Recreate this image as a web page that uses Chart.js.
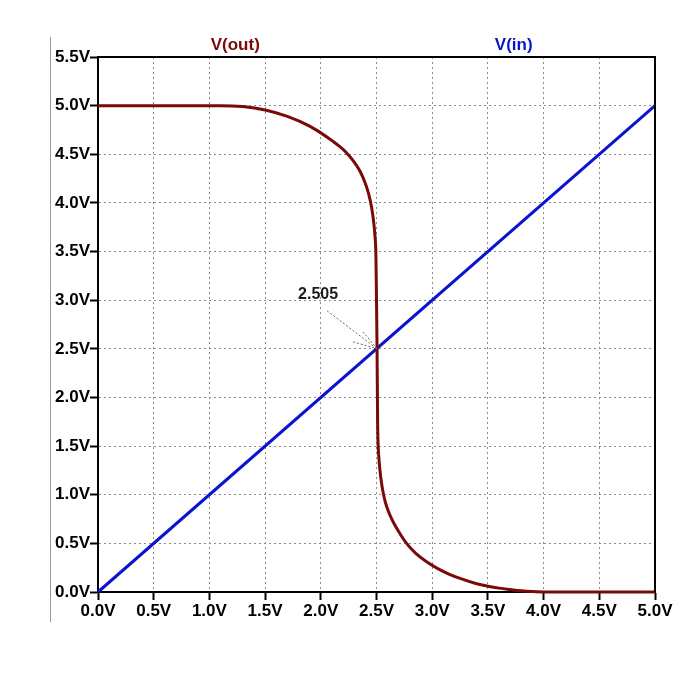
<!DOCTYPE html>
<html>
<head>
<meta charset="utf-8">
<script src="https://cdn.jsdelivr.net/npm/chart.js@4.4.1/dist/chart.umd.min.js"></script>
<style>
  html, body { margin: 0; padding: 0; background: #fff; }
  #wrap { width: 700px; height: 676px; }
</style>
</head>
<body>
<div id="wrap"><canvas id="sweep" width="700" height="676"></canvas></div>
<script>
// Input sweep (V) and traces
const vinX = [0, 5];
const vinY = [0, 5];

const voutX = [0, 1.1, 1.3, 1.5, 1.7, 1.9, 2.0, 2.1, 2.2, 2.25, 2.3, 2.35, 2.4, 2.43, 2.455, 2.475,
  2.487, 2.495, 2.5, 2.505, 2.51, 2.515, 2.52, 2.53, 2.545, 2.56, 2.58, 2.61, 2.65, 2.7,
  2.77, 2.85, 2.95, 3.05, 3.15, 3.25, 3.4, 3.5, 3.6, 3.7, 3.8, 3.9, 4.0, 5.0];
const voutY = [5.0, 5.0, 4.99, 4.955, 4.89, 4.79, 4.72, 4.64, 4.55, 4.49, 4.42, 4.33, 4.2, 4.09, 3.96, 3.8,
  3.65, 3.45, 3.0, 2.5, 1.75, 1.5, 1.4, 1.26, 1.12, 1.02, 0.92, 0.82, 0.72, 0.62,
  0.5, 0.4, 0.31, 0.24, 0.185, 0.14, 0.085, 0.06, 0.04, 0.025, 0.012, 0.004, 0.0, 0.0];

const traceNames = ['V(out)', 'V(in)'];
const traceColors = ['#7a0a0a', '#0a14cc'];

// cursor readout where the two traces cross
const crossing = [2.505, 2.5];

const xTicks = [0, 0.5, 1, 1.5, 2, 2.5, 3, 3.5, 4, 4.5, 5];
const yTicks = [0, 0.5, 1, 1.5, 2, 2.5, 3, 3.5, 4, 4.5, 5, 5.5];

const labelFont = { family: '"Liberation Sans", Arial, sans-serif', size: 17, weight: 'bold' };

function toPoints(xs, ys) {
  return xs.map((x, i) => ({ x: x, y: ys[i] }));
}

function fmtVolt(v) {
  return Number(v).toFixed(1) + 'V';
}

// Box frame, trace names and the cursor annotation
const decorations = {
  id: 'decorations',
  afterDraw(chart) {
    const ctx = chart.ctx;
    const area = chart.chartArea;
    const xs = chart.scales.x;
    const ys = chart.scales.y;

    ctx.save();

    // thin gray edge on the far left
    ctx.strokeStyle = '#9a9a9a';
    ctx.lineWidth = 1;
    ctx.beginPath();
    ctx.moveTo(50.5, 37);
    ctx.lineTo(50.5, 622);
    ctx.stroke();

    // top and right edge of the plot box
    ctx.strokeStyle = '#000';
    ctx.lineWidth = 2;
    ctx.beginPath();
    ctx.moveTo(area.left, area.top);
    ctx.lineTo(area.right, area.top);
    ctx.lineTo(area.right, area.bottom);
    ctx.stroke();

    // trace names above the plot
    ctx.font = 'bold 17px "Liberation Sans", Arial, sans-serif';
    ctx.textAlign = 'center';
    ctx.textBaseline = 'middle';
    const namePos = [0.25, 0.75];
    traceNames.forEach((name, i) => {
      ctx.fillStyle = traceColors[i];
      const cx = area.left + (area.right - area.left) * namePos[i] - 2;
      ctx.fillText(name, cx, area.top - 12);
    });

    // annotation at the crossing point
    const tx = xs.getPixelForValue(crossing[0]);
    const ty = ys.getPixelForValue(crossing[1]);
    ctx.strokeStyle = '#666';
    ctx.lineWidth = 1;
    ctx.setLineDash([2, 2]);
    ctx.beginPath();
    ctx.moveTo(tx - 50, ty - 38);
    ctx.lineTo(tx, ty);
    ctx.moveTo(tx - 14, ty - 17);
    ctx.lineTo(tx, ty);
    ctx.moveTo(tx - 24, ty - 7);
    ctx.lineTo(tx, ty);
    ctx.stroke();
    ctx.setLineDash([]);

    ctx.fillStyle = '#1a1a1a';
    ctx.font = 'bold 16px "Liberation Sans", Arial, sans-serif';
    ctx.fillText(crossing[0].toFixed(3), tx - 59, ty - 54);

    ctx.restore();
  }
};

const gridStyle = {
  color: '#8a8a8a',
  lineWidth: 1,
  tickColor: '#000',
  tickWidth: 2,
  tickLength: 8
};

new Chart(document.getElementById('sweep'), {
  type: 'scatter',
  data: {
    datasets: [
      {
        label: traceNames[0],
        data: toPoints(voutX, voutY),
        showLine: true,
        borderColor: traceColors[0],
        borderWidth: 3,
        pointRadius: 0,
        cubicInterpolationMode: 'monotone',
        clip: false
      },
      {
        label: traceNames[1],
        data: toPoints(vinX, vinY),
        showLine: true,
        borderColor: traceColors[1],
        borderWidth: 3,
        pointRadius: 0,
        clip: false
      }
    ]
  },
  options: {
    responsive: false,
    animation: false,
    layout: {
      padding: { left: 50, top: 57, right: 45, bottom: 0 }
    },
    plugins: {
      legend: { display: false },
      tooltip: { enabled: false }
    },
    scales: {
      x: {
        type: 'linear',
        min: 0,
        max: 5,
        afterBuildTicks: (scale) => { scale.ticks = xTicks.map(v => ({ value: v })); },
        afterFit: (scale) => { scale.height = 84; },
        ticks: {
          color: '#000',
          font: labelFont,
          padding: 1,
          maxRotation: 0,
          callback: fmtVolt
        },
        grid: gridStyle,
        border: { color: '#000', width: 2, dash: [2, 3] }
      },
      y: {
        type: 'linear',
        min: 0,
        max: 5.5,
        afterBuildTicks: (scale) => { scale.ticks = yTicks.map(v => ({ value: v })); },
        afterFit: (scale) => { scale.width = 48; },
        ticks: {
          color: '#000',
          font: labelFont,
          padding: 0,
          callback: fmtVolt
        },
        grid: gridStyle,
        border: { color: '#000', width: 2, dash: [2, 3] }
      }
    }
  },
  plugins: [decorations]
});
</script>
</body>
</html>
